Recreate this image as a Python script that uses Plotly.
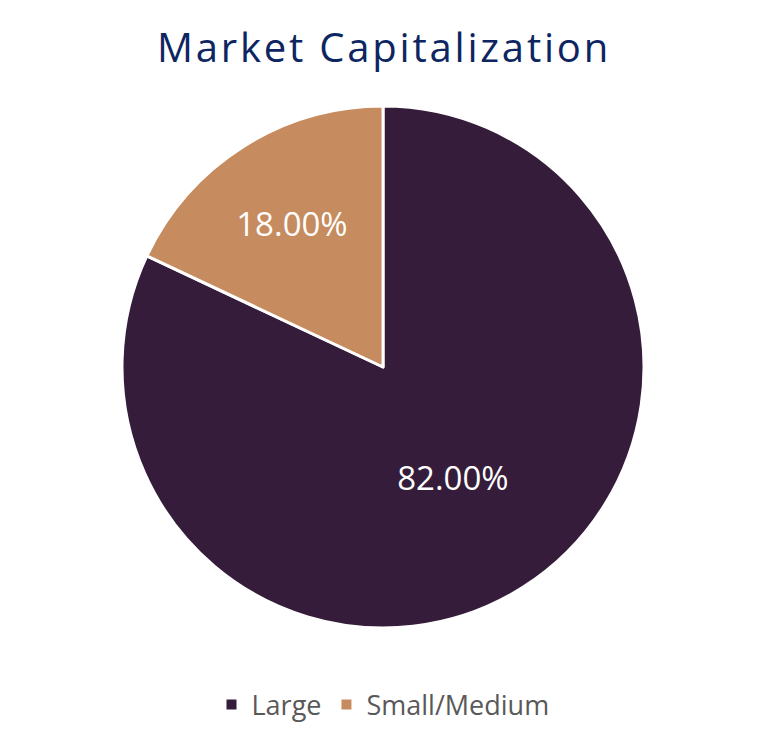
import plotly.graph_objects as go

labels = ["Large", "Small/Medium"]
values = [82.00, 18.00]
colors = ["#351c3a", "#c68b5e"]
title_text = "Market Capitalization"

W, H = 768, 743
L, R, T, B = 122, 124, 106, 115

fig = go.Figure(go.Pie(
    labels=labels,
    values=values,
    sort=False,
    direction="clockwise",
    rotation=0,
    marker=dict(colors=colors, line=dict(color="white", width=3)),
    texttemplate="%{value:.2f}%",
    textposition="inside",
    insidetextorientation="horizontal",
    textfont=dict(family="Open Sans", size=33, color="white"),
    hoverinfo="label+percent",
))

fig.update_layout(
    width=W, height=H,
    margin=dict(l=L, r=R, t=T, b=B),
    paper_bgcolor="white",
    plot_bgcolor="white",
    title=dict(
        text=f"<span style='letter-spacing:2.8px'>{title_text}</span>",
        x=0.5, xanchor="center",
        y=1 - 48 / H, yanchor="middle", yref="container",
        font=dict(family="Open Sans", size=40, color="#0d2561"),
    ),
    showlegend=True,
    legend=dict(
        orientation="h",
        x=0.5, xanchor="center",
        y=-(705 - (H - B)) / (H - T - B), yanchor="middle",
        font=dict(family="Open Sans", size=27, color="#595959"),
        itemsizing="constant",
    ),
)

fig.write_html("out.html")
